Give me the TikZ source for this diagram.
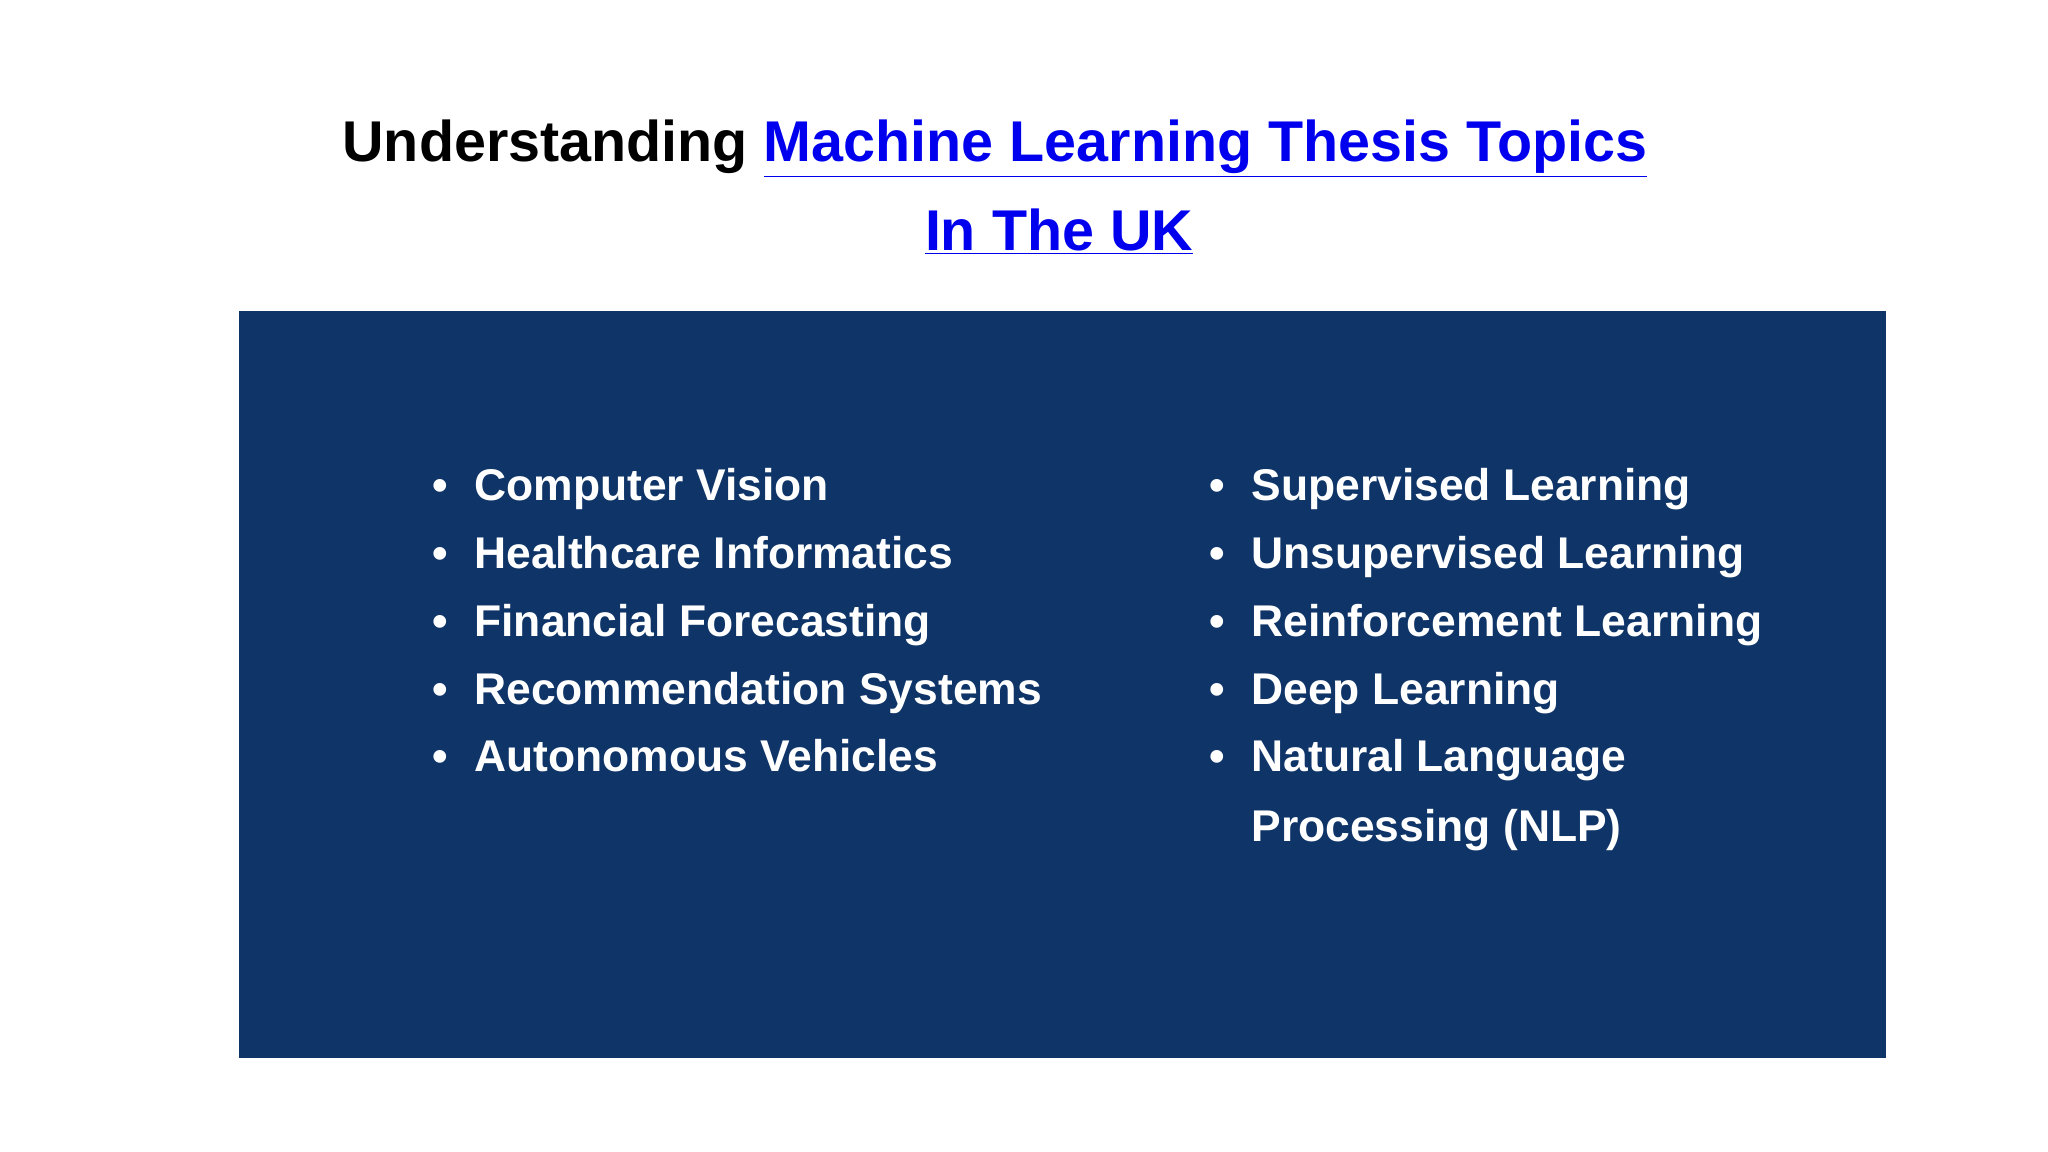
\documentclass[tikz,border=0pt]{standalone}
\usepackage{fontspec}
\setmainfont{Liberation Sans}
\definecolor{boxblue}{HTML}{0E3468}
\definecolor{linkblue}{HTML}{0000EE}
\tikzset{
 item/.style={anchor=base west,text=white,font=\fontsize{34}{40}\selectfont\bfseries,inner sep=0pt},
 bul/.style={anchor=base west,text=white,font=\fontsize{34}{40}\selectfont\bfseries,inner sep=0pt},
 ttl/.style={anchor=base west,font=\fontsize{44}{52}\selectfont\bfseries,inner sep=0pt}
}
\begin{document}
\begin{tikzpicture}[x=1pt,y=-1pt]
\useasboundingbox (0,0) rectangle (1568,882);
\fill[boxblue] (183,238) rectangle (1444,810);
\node[ttl] (t1) at (262,124) {Understanding \textcolor{linkblue}{\underline{Machine Learning Thesis Topics}}};
\node[ttl,text=linkblue] (t2) at (708,192) {\underline{In The UK}};
\foreach \n/\t [count=\i] in {a/Computer Vision,b/Healthcare Informatics,c/Financial Forecasting,d/Recommendation Systems,e/Autonomous Vehicles}{
 \node[bul] (lb\n) at (331,383+52*\i-52) {•};
 \node[item] (l\n) at (363,383+52*\i-52) {\t};
}
\foreach \n/\t [count=\i] in {a/Supervised Learning,b/Unsupervised Learning,c/Reinforcement Learning,d/Deep Learning,e/Natural Language}{
 \node[bul] (rb\n) at (926,383+52*\i-52) {•};
 \node[item] (r\n) at (958,383+52*\i-52) {\t};
}
\node[item] (rf) at (958,644) {Processing (NLP)};
\end{tikzpicture}
\end{document}
